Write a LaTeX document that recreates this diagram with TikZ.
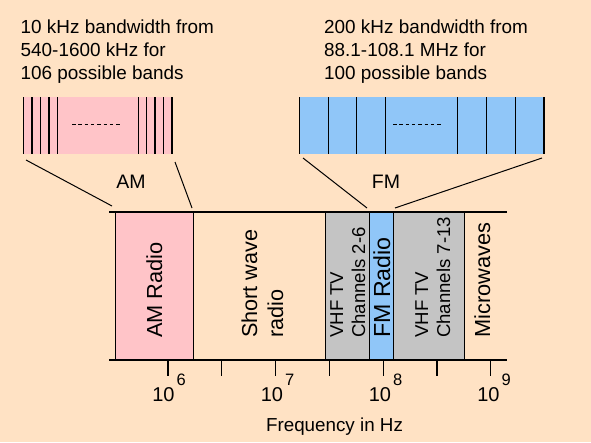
\documentclass[tikz,border=0pt]{standalone}
\usepackage{fontspec}
\setmainfont{Liberation Sans}
\definecolor{bg}{HTML}{FFE2C4}
\definecolor{pinkc}{HTML}{FFC4C8}
\definecolor{bluec}{HTML}{90C6F8}
\definecolor{grayc}{HTML}{C4C4C4}
\newcommand{\fs}[1]{\fontsize{#1}{#1}\selectfont}
\begin{document}
\begin{tikzpicture}[x=1pt,y=-1pt,
  bandline/.style={line width=2.2pt},
  cellline/.style={line width=1pt},
  barline/.style={line width=1.4pt},
  conn/.style={line width=1pt},
  tickline/.style={line width=1.2pt},
  dotline/.style={line width=0.9pt,dash pattern=on 3.5pt off 2.8pt},
  toptext/.style={anchor=base west,inner sep=0pt,font=\fs{18.9}},
  rottext/.style={anchor=base west,inner sep=0pt,rotate=90},
  axlabel/.style={anchor=base,inner sep=0pt,font=\fs{20}}]
\fill[bg] (0,0) rectangle (591,442);
\useasboundingbox (0,0) rectangle (591,442);
% top texts
\node[toptext] (am1) at (20.5,33) {10 kHz bandwidth from};
\node[toptext] (am2) at (20.5,56) {540-1600 kHz for};
\node[toptext] (am3) at (20.5,79) {106 possible bands};
\node[toptext] (fm1) at (324,33) {200 kHz bandwidth from};
\node[toptext] (fm2) at (324,56) {88.1-108.1 MHz for};
\node[toptext] (fm3) at (324,79) {100 possible bands};
% AM zoom box
\fill[pinkc] (23,97) rectangle (172,154);
\node[inner sep=0pt,minimum width=149pt,minimum height=57pt] (amzoom) at (97.5,125.5) {};
\foreach \x in {23.3,32,40.3,49,57.3,138.3,146.7,155,163.3,172}
  \draw[barline] (\x,97) -- (\x,154);
\draw[dotline] (72,124) -- (122,124);
% FM zoom box
\fill[bluec] (299,97) rectangle (544,154);
\node[inner sep=0pt,minimum width=245pt,minimum height=57pt] (fmzoom) at (421.5,125.5) {};
\foreach \x in {299.3,328.3,356.7,385.7,457.7,486.7,515.3,544}
  \draw[barline] (\x,97) -- (\x,154);
\draw[dotline] (393,124) -- (443,124);
% labels AM FM
\node[anchor=base,inner sep=0pt,font=\fs{19.5}] (amlab) at (131,188) {AM};
\node[anchor=base,inner sep=0pt,font=\fs{19.5}] (fmlab) at (386,188) {FM};
% band cells
\fill[pinkc] (115,212) rectangle (193,360);
\fill[grayc] (325,212) rectangle (369,360);
\fill[bluec] (369,212) rectangle (393,360);
\fill[grayc] (393,212) rectangle (464,360);
\node[inner sep=0pt,minimum width=78pt,minimum height=148pt] (amband) at (154,286) {};
\node[inner sep=0pt,minimum width=24pt,minimum height=148pt] (fmband) at (381,286) {};
\foreach \x in {115,193,325,369,393,464}
  \draw[cellline] (\x,212) -- (\x,360);
\draw[bandline] (109,212) -- (507,212);
\draw[bandline] (109,360) -- (507,360);
% connectors
\coordinate (amL1) at (26,160); \coordinate (amL2) at (112,206);
\coordinate (amR1) at (175,162); \coordinate (amR2) at (192,208);
\coordinate (fmL1) at (303,158); \coordinate (fmL2) at (367,208);
\coordinate (fmR1) at (542,158); \coordinate (fmR2) at (395,208);
\draw[conn] (amL1) -- (amL2);
\draw[conn] (amR1) -- (amR2);
\draw[conn] (fmL1) -- (fmL2);
\draw[conn] (fmR1) -- (fmR2);
% rotated labels
\node[rottext,font=\fs{21.8}] (amr) at (162,338) {AM Radio};
\node[rottext,font=\fs{21.6}] (sw1) at (257,338) {Short wave};
\node[rottext,font=\fs{21.6}] (sw2) at (283,338) {radio};
\node[rottext,font=\fs{18.6}] (v1a) at (343,338) {VHF TV};
\node[rottext,font=\fs{18.6}] (v1b) at (365,338) {Channels 2-6};
\node[rottext,font=\fs{23.2}] (fmr) at (390,338) {FM Radio};
\node[rottext,font=\fs{18.6}] (v2a) at (428,338) {VHF TV};
\node[rottext,font=\fs{18.6}] (v2b) at (450,338) {Channels 7-13};
\node[rottext,font=\fs{21.8}] (mw) at (490,338) {Microwaves};
% ticks
\foreach \k in {0,...,6}
  \draw[tickline] ({168+53.8*\k},361) -- ({168+53.8*\k},376);
\node[axlabel] (e6) at (169,401) {10\hspace{2pt}\raisebox{16pt}{\fs{16.5}6}};
\node[axlabel] (e7) at (277.5,401) {10\hspace{2pt}\raisebox{16pt}{\fs{16.5}7}};
\node[axlabel] (e8) at (385.5,401) {10\hspace{2pt}\raisebox{16pt}{\fs{16.5}8}};
\node[axlabel] (e9) at (494,401) {10\hspace{2pt}\raisebox{16pt}{\fs{16.5}9}};
\node[anchor=base,inner sep=0pt,font=\fs{18.8}] (freq) at (334.5,431) {Frequency in Hz};
\end{tikzpicture}
\end{document}
